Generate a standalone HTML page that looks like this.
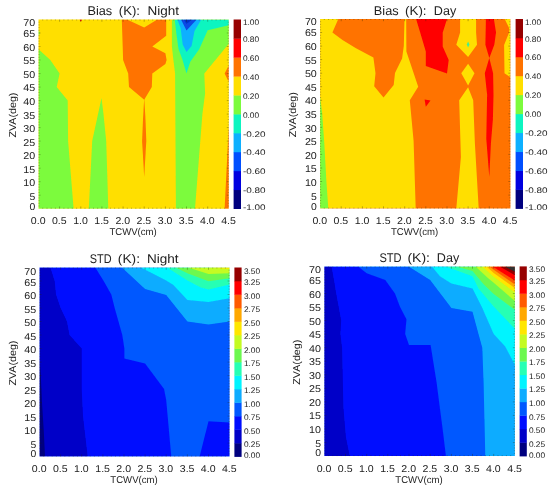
<!DOCTYPE html>
<html lang="en"><head><meta charset="utf-8"><title>Bias and STD versus TCWV and ZVA</title>
<style>
html,body{margin:0;padding:0;background:#fff}
svg{display:block}
text{font-family:'Liberation Sans', Arial, sans-serif;fill:#222;text-rendering:geometricPrecision}
</style></head>
<body>
<svg width="550" height="489" viewBox="0 0 550 489">
<defs><filter id="soft" x="-2%" y="-2%" width="104%" height="104%"><feGaussianBlur stdDeviation="0.45"/></filter></defs>
<rect width="550" height="489" fill="#fff"/>
<clipPath id="c1"><rect x="38.5" y="19.5" width="190.3" height="189.2"/></clipPath>
<g clip-path="url(#c1)" filter="url(#soft)">
<rect x="36.5" y="17.5" width="194.3" height="193.2" fill="#ffdf00"/>
<polygon points="38.5,49.2 50.3,60.0 59.6,73.6 56.7,87.1 67.7,100.6 68.1,141.1 73.6,208.7 38.5,208.7" fill="#7cfb3c"/>
<polygon points="38.5,29.8 40.0,33.0 38.5,36.3" fill="#7cfb3c"/>
<polygon points="79.5,19.5 80.8,21.7 82.1,19.5" fill="#ff0000"/>
<polygon points="88.8,208.7 92.2,141.1 98.6,111.4 101.5,97.9 103.2,111.4 106.2,141.1 108.3,208.7" fill="#7cfb3c"/>
<polygon points="121.8,19.5 126.9,19.5 144.2,27.6 157.3,19.5 166.2,19.5 166.2,35.7 152.3,46.5 165.4,53.3 166.6,60.0 165.4,64.1 152.3,73.6 151.8,87.1 144.2,99.8 129.0,87.1 128.2,73.6 123.1,60.0 122.7,46.5" fill="#ff7300"/>
<polygon points="144.2,97.9 145.5,119.5 146.3,141.1 144.2,177.1 142.1,141.1 143.0,119.5" fill="#ff7300"/>
<polygon points="171.9,19.5 228.8,19.5 228.8,43.8 204.3,73.6 205.1,93.6 202.4,114.1 195.0,208.7 175.9,208.7 175.1,73.6 173.4,60.0 171.9,46.5" fill="#7cfb3c"/>
<polygon points="174.7,19.5 176.4,34.1 178.5,49.0 182.3,59.2 186.5,73.6 190.3,61.7 199.2,49.2 207.7,30.3 228.8,25.2 228.8,19.5" fill="#10f5c0"/>
<polygon points="177.4,19.5 180.6,28.1 182.7,44.4 186.5,51.9 191.6,46.0 194.5,31.1 201.3,19.5" fill="#08b0ff"/>
<polygon points="181.0,19.5 186.5,30.6 196.7,19.5" fill="#0848e4"/>
<polygon points="184.0,19.5 186.5,23.8 192.0,19.5" fill="#0030c8"/>
<polygon points="228.8,65.4 224.6,73.6 228.8,81.7" fill="#ff7300"/>
<polygon points="228.8,124.9 224.6,208.7 228.8,208.7" fill="#ff7300"/>
</g>
<text x="87.4" y="14.7" font-size="12.60" text-anchor="start" textLength="24.8" lengthAdjust="spacingAndGlyphs">Bias</text>
<text x="118.8" y="14.7" font-size="12.60" text-anchor="start" textLength="21.2" lengthAdjust="spacingAndGlyphs">(K):</text>
<text x="147.4" y="14.7" font-size="12.60" text-anchor="start" textLength="31.6" lengthAdjust="spacingAndGlyphs">Night</text>
<text x="38.2" y="224.1" font-size="9.90" text-anchor="middle" textLength="14.7" lengthAdjust="spacingAndGlyphs">0.0</text>
<text x="59.3" y="224.1" font-size="9.90" text-anchor="middle" textLength="14.7" lengthAdjust="spacingAndGlyphs">0.5</text>
<text x="80.5" y="224.1" font-size="9.90" text-anchor="middle" textLength="14.7" lengthAdjust="spacingAndGlyphs">1.0</text>
<text x="101.6" y="224.1" font-size="9.90" text-anchor="middle" textLength="14.7" lengthAdjust="spacingAndGlyphs">1.5</text>
<text x="122.8" y="224.1" font-size="9.90" text-anchor="middle" textLength="14.7" lengthAdjust="spacingAndGlyphs">2.0</text>
<text x="143.9" y="224.1" font-size="9.90" text-anchor="middle" textLength="14.7" lengthAdjust="spacingAndGlyphs">2.5</text>
<text x="165.1" y="224.1" font-size="9.90" text-anchor="middle" textLength="14.7" lengthAdjust="spacingAndGlyphs">3.0</text>
<text x="186.2" y="224.1" font-size="9.90" text-anchor="middle" textLength="14.7" lengthAdjust="spacingAndGlyphs">3.5</text>
<text x="207.4" y="224.1" font-size="9.90" text-anchor="middle" textLength="14.7" lengthAdjust="spacingAndGlyphs">4.0</text>
<text x="228.5" y="224.1" font-size="9.90" text-anchor="middle" textLength="14.7" lengthAdjust="spacingAndGlyphs">4.5</text>
<text x="133.1" y="235.4" font-size="9.90" text-anchor="middle" textLength="47.3" lengthAdjust="spacingAndGlyphs">TCWV(cm)</text>
<text x="35.2" y="210.0" font-size="9.90" text-anchor="end" textLength="5.8" lengthAdjust="spacingAndGlyphs">0</text>
<text x="35.2" y="199.9" font-size="9.90" text-anchor="end" textLength="5.8" lengthAdjust="spacingAndGlyphs">5</text>
<text x="35.2" y="186.4" font-size="9.90" text-anchor="end" textLength="11.9" lengthAdjust="spacingAndGlyphs">10</text>
<text x="35.2" y="172.8" font-size="9.90" text-anchor="end" textLength="11.9" lengthAdjust="spacingAndGlyphs">15</text>
<text x="35.2" y="159.2" font-size="9.90" text-anchor="end" textLength="11.9" lengthAdjust="spacingAndGlyphs">20</text>
<text x="35.2" y="145.6" font-size="9.90" text-anchor="end" textLength="11.9" lengthAdjust="spacingAndGlyphs">25</text>
<text x="35.2" y="132.1" font-size="9.90" text-anchor="end" textLength="11.9" lengthAdjust="spacingAndGlyphs">30</text>
<text x="35.2" y="118.5" font-size="9.90" text-anchor="end" textLength="11.9" lengthAdjust="spacingAndGlyphs">35</text>
<text x="35.2" y="104.9" font-size="9.90" text-anchor="end" textLength="11.9" lengthAdjust="spacingAndGlyphs">40</text>
<text x="35.2" y="91.4" font-size="9.90" text-anchor="end" textLength="11.9" lengthAdjust="spacingAndGlyphs">45</text>
<text x="35.2" y="77.8" font-size="9.90" text-anchor="end" textLength="11.9" lengthAdjust="spacingAndGlyphs">50</text>
<text x="35.2" y="64.2" font-size="9.90" text-anchor="end" textLength="11.9" lengthAdjust="spacingAndGlyphs">55</text>
<text x="35.2" y="50.6" font-size="9.90" text-anchor="end" textLength="11.9" lengthAdjust="spacingAndGlyphs">60</text>
<text x="35.2" y="37.1" font-size="9.90" text-anchor="end" textLength="11.9" lengthAdjust="spacingAndGlyphs">65</text>
<text x="35.2" y="26.1" font-size="9.90" text-anchor="end" textLength="11.9" lengthAdjust="spacingAndGlyphs">70</text>
<text transform="translate(16.3,115.1) rotate(-90)" font-size="9.9" text-anchor="middle" textLength="45" lengthAdjust="spacingAndGlyphs">ZVA(deg)</text>
<path d="M59.6 208.7v-2.2M59.6 19.5v2.2M80.8 208.7v-2.2M80.8 19.5v2.2M101.9 208.7v-2.2M101.9 19.5v2.2M123.1 208.7v-2.2M123.1 19.5v2.2M144.2 208.7v-2.2M144.2 19.5v2.2M165.4 208.7v-2.2M165.4 19.5v2.2M186.5 208.7v-2.2M186.5 19.5v2.2M207.7 208.7v-2.2M207.7 19.5v2.2M42.7 208.7v-1M42.7 19.5v1M47.0 208.7v-1M47.0 19.5v1M51.2 208.7v-1M51.2 19.5v1M55.4 208.7v-1M55.4 19.5v1M63.9 208.7v-1M63.9 19.5v1M68.1 208.7v-1M68.1 19.5v1M72.3 208.7v-1M72.3 19.5v1M76.6 208.7v-1M76.6 19.5v1M85.0 208.7v-1M85.0 19.5v1M89.2 208.7v-1M89.2 19.5v1M93.5 208.7v-1M93.5 19.5v1M97.7 208.7v-1M97.7 19.5v1M106.2 208.7v-1M106.2 19.5v1M110.4 208.7v-1M110.4 19.5v1M114.6 208.7v-1M114.6 19.5v1M118.8 208.7v-1M118.8 19.5v1M127.3 208.7v-1M127.3 19.5v1M131.5 208.7v-1M131.5 19.5v1M135.8 208.7v-1M135.8 19.5v1M140.0 208.7v-1M140.0 19.5v1M148.5 208.7v-1M148.5 19.5v1M152.7 208.7v-1M152.7 19.5v1M156.9 208.7v-1M156.9 19.5v1M161.1 208.7v-1M161.1 19.5v1M169.6 208.7v-1M169.6 19.5v1M173.8 208.7v-1M173.8 19.5v1M178.1 208.7v-1M178.1 19.5v1M182.3 208.7v-1M182.3 19.5v1M190.7 208.7v-1M190.7 19.5v1M195.0 208.7v-1M195.0 19.5v1M199.2 208.7v-1M199.2 19.5v1M203.4 208.7v-1M203.4 19.5v1M211.9 208.7v-1M211.9 19.5v1M216.1 208.7v-1M216.1 19.5v1M220.3 208.7v-1M220.3 19.5v1M224.6 208.7v-1M224.6 19.5v1M38.5 206.0h1.0M228.8 206.0h-1.0M38.5 203.3h1.0M228.8 203.3h-1.0M38.5 200.6h1.0M228.8 200.6h-1.0M38.5 197.9h1.0M228.8 197.9h-1.0M38.5 195.2h2.0M228.8 195.2h-2.0M38.5 192.5h1.0M228.8 192.5h-1.0M38.5 189.8h1.0M228.8 189.8h-1.0M38.5 187.1h1.0M228.8 187.1h-1.0M38.5 184.4h1.0M228.8 184.4h-1.0M38.5 181.7h2.0M228.8 181.7h-2.0M38.5 179.0h1.0M228.8 179.0h-1.0M38.5 176.3h1.0M228.8 176.3h-1.0M38.5 173.6h1.0M228.8 173.6h-1.0M38.5 170.9h1.0M228.8 170.9h-1.0M38.5 168.2h2.0M228.8 168.2h-2.0M38.5 165.5h1.0M228.8 165.5h-1.0M38.5 162.8h1.0M228.8 162.8h-1.0M38.5 160.0h1.0M228.8 160.0h-1.0M38.5 157.3h1.0M228.8 157.3h-1.0M38.5 154.6h2.0M228.8 154.6h-2.0M38.5 151.9h1.0M228.8 151.9h-1.0M38.5 149.2h1.0M228.8 149.2h-1.0M38.5 146.5h1.0M228.8 146.5h-1.0M38.5 143.8h1.0M228.8 143.8h-1.0M38.5 141.1h2.0M228.8 141.1h-2.0M38.5 138.4h1.0M228.8 138.4h-1.0M38.5 135.7h1.0M228.8 135.7h-1.0M38.5 133.0h1.0M228.8 133.0h-1.0M38.5 130.3h1.0M228.8 130.3h-1.0M38.5 127.6h2.0M228.8 127.6h-2.0M38.5 124.9h1.0M228.8 124.9h-1.0M38.5 122.2h1.0M228.8 122.2h-1.0M38.5 119.5h1.0M228.8 119.5h-1.0M38.5 116.8h1.0M228.8 116.8h-1.0M38.5 114.1h2.0M228.8 114.1h-2.0M38.5 111.4h1.0M228.8 111.4h-1.0M38.5 108.7h1.0M228.8 108.7h-1.0M38.5 106.0h1.0M228.8 106.0h-1.0M38.5 103.3h1.0M228.8 103.3h-1.0M38.5 100.6h2.0M228.8 100.6h-2.0M38.5 97.9h1.0M228.8 97.9h-1.0M38.5 95.2h1.0M228.8 95.2h-1.0M38.5 92.5h1.0M228.8 92.5h-1.0M38.5 89.8h1.0M228.8 89.8h-1.0M38.5 87.1h2.0M228.8 87.1h-2.0M38.5 84.4h1.0M228.8 84.4h-1.0M38.5 81.7h1.0M228.8 81.7h-1.0M38.5 79.0h1.0M228.8 79.0h-1.0M38.5 76.3h1.0M228.8 76.3h-1.0M38.5 73.6h2.0M228.8 73.6h-2.0M38.5 70.9h1.0M228.8 70.9h-1.0M38.5 68.2h1.0M228.8 68.2h-1.0M38.5 65.4h1.0M228.8 65.4h-1.0M38.5 62.7h1.0M228.8 62.7h-1.0M38.5 60.0h2.0M228.8 60.0h-2.0M38.5 57.3h1.0M228.8 57.3h-1.0M38.5 54.6h1.0M228.8 54.6h-1.0M38.5 51.9h1.0M228.8 51.9h-1.0M38.5 49.2h1.0M228.8 49.2h-1.0M38.5 46.5h2.0M228.8 46.5h-2.0M38.5 43.8h1.0M228.8 43.8h-1.0M38.5 41.1h1.0M228.8 41.1h-1.0M38.5 38.4h1.0M228.8 38.4h-1.0M38.5 35.7h1.0M228.8 35.7h-1.0M38.5 33.0h2.0M228.8 33.0h-2.0M38.5 30.3h1.0M228.8 30.3h-1.0M38.5 27.6h1.0M228.8 27.6h-1.0M38.5 24.9h1.0M228.8 24.9h-1.0M38.5 22.2h1.0M228.8 22.2h-1.0" stroke="#2a2800" stroke-opacity="0.42" stroke-width="0.8" fill="none"/>
<g filter="url(#soft)">
<rect x="233.6" y="189.78" width="7.4" height="19.22" fill="#00007f"/>
<rect x="233.6" y="170.86" width="7.4" height="19.22" fill="#0000e0"/>
<rect x="233.6" y="151.94" width="7.4" height="19.22" fill="#0050ff"/>
<rect x="233.6" y="133.02" width="7.4" height="19.22" fill="#08b0ff"/>
<rect x="233.6" y="114.10" width="7.4" height="19.22" fill="#10f5c0"/>
<rect x="233.6" y="95.18" width="7.4" height="19.22" fill="#7cfb3c"/>
<rect x="233.6" y="76.26" width="7.4" height="19.22" fill="#ffdf00"/>
<rect x="233.6" y="57.34" width="7.4" height="19.22" fill="#ff7300"/>
<rect x="233.6" y="38.42" width="7.4" height="19.22" fill="#ff0000"/>
<rect x="233.6" y="19.50" width="7.4" height="19.22" fill="#960000"/>
</g>
<text x="243.0" y="209.8" font-size="8.10" text-anchor="start" textLength="22.6" lengthAdjust="spacingAndGlyphs">-1.00</text>
<text x="243.0" y="193.3" font-size="8.10" text-anchor="start" textLength="22.6" lengthAdjust="spacingAndGlyphs">-0.80</text>
<text x="243.0" y="174.4" font-size="8.10" text-anchor="start" textLength="22.6" lengthAdjust="spacingAndGlyphs">-0.60</text>
<text x="243.0" y="155.4" font-size="8.10" text-anchor="start" textLength="22.6" lengthAdjust="spacingAndGlyphs">-0.40</text>
<text x="243.0" y="136.5" font-size="8.10" text-anchor="start" textLength="22.6" lengthAdjust="spacingAndGlyphs">-0.20</text>
<text x="242.9" y="117.6" font-size="8.10" text-anchor="start" textLength="16.2" lengthAdjust="spacingAndGlyphs">0.00</text>
<text x="242.9" y="98.7" font-size="8.10" text-anchor="start" textLength="16.2" lengthAdjust="spacingAndGlyphs">0.20</text>
<text x="242.9" y="79.8" font-size="8.10" text-anchor="start" textLength="16.2" lengthAdjust="spacingAndGlyphs">0.40</text>
<text x="242.9" y="60.8" font-size="8.10" text-anchor="start" textLength="16.2" lengthAdjust="spacingAndGlyphs">0.60</text>
<text x="242.9" y="41.9" font-size="8.10" text-anchor="start" textLength="16.2" lengthAdjust="spacingAndGlyphs">0.80</text>
<text x="242.9" y="25.0" font-size="8.10" text-anchor="start" textLength="16.2" lengthAdjust="spacingAndGlyphs">1.00</text>
<clipPath id="c2"><rect x="320.1" y="19.0" width="190.3" height="189.6"/></clipPath>
<g clip-path="url(#c2)" filter="url(#soft)">
<rect x="318.1" y="17.0" width="194.3" height="193.6" fill="#ff7300"/>
<polygon points="320.1,19.0 338.3,19.0 332.4,32.5 342.5,40.1 356.0,48.3 373.4,57.5 375.5,73.2 374.2,86.2 383.5,97.5 393.7,85.1 395.0,72.9 402.1,58.5 403.8,46.1 404.5,19.0 406.2,19.0 406.4,51.5 418.2,86.7 409.8,100.3 413.6,140.9 415.7,208.6 320.1,208.6" fill="#ffdf00"/>
<polygon points="320.1,96.2 322.2,113.8 324.3,143.6 326.4,181.5 328.3,208.6 320.1,208.6" fill="#7cfb3c"/>
<polygon points="416.1,19.0 420.7,34.2 425.8,51.5 425.8,66.1 447.0,73.4 448.7,59.9 442.7,46.4 442.7,32.8 447.0,19.0" fill="#ff0000"/>
<polygon points="424.6,99.4 430.5,100.5 425.8,106.8" fill="#ff0000"/>
<polygon points="460.1,19.0 460.1,32.5 456.3,44.7 468.1,56.9 477.0,44.7 476.1,32.5 476.1,19.0" fill="#ffdf00"/>
<polygon points="468.1,41.5 469.4,44.5 468.1,47.4 466.8,44.5" fill="#40f090"/>
<polygon points="468.1,63.7 474.5,73.2 468.1,85.6 461.3,73.2" fill="#ffdf00"/>
<polygon points="468.1,87.3 473.2,100.3 474.9,143.6 478.7,208.6 456.3,208.6 460.9,157.1 459.2,100.3" fill="#ffdf00"/>
<polygon points="485.9,19.0 493.9,19.0 496.0,32.5 494.3,44.7 489.3,58.0 485.4,44.7" fill="#ff0000"/>
<polygon points="489.3,58.0 493.1,73.2 493.5,94.8 492.9,119.2 490.9,143.6 489.3,176.9 486.3,139.0 487.1,94.8 484.8,73.2" fill="#ff0000"/>
<polygon points="504.7,19.0 509.1,27.9 509.1,32.5 504.1,45.0 504.5,73.2 510.4,77.2 510.4,19.0" fill="#ffdf00"/>
</g>
<text x="373.8" y="14.5" font-size="12.60" text-anchor="start" textLength="24.8" lengthAdjust="spacingAndGlyphs">Bias</text>
<text x="405.0" y="14.5" font-size="12.60" text-anchor="start" textLength="21.6" lengthAdjust="spacingAndGlyphs">(K):</text>
<text x="433.8" y="14.5" font-size="12.60" text-anchor="start" textLength="22.4" lengthAdjust="spacingAndGlyphs">Day</text>
<text x="319.8" y="224.0" font-size="9.90" text-anchor="middle" textLength="14.7" lengthAdjust="spacingAndGlyphs">0.0</text>
<text x="340.9" y="224.0" font-size="9.90" text-anchor="middle" textLength="14.7" lengthAdjust="spacingAndGlyphs">0.5</text>
<text x="362.1" y="224.0" font-size="9.90" text-anchor="middle" textLength="14.7" lengthAdjust="spacingAndGlyphs">1.0</text>
<text x="383.2" y="224.0" font-size="9.90" text-anchor="middle" textLength="14.7" lengthAdjust="spacingAndGlyphs">1.5</text>
<text x="404.4" y="224.0" font-size="9.90" text-anchor="middle" textLength="14.7" lengthAdjust="spacingAndGlyphs">2.0</text>
<text x="425.5" y="224.0" font-size="9.90" text-anchor="middle" textLength="14.7" lengthAdjust="spacingAndGlyphs">2.5</text>
<text x="446.7" y="224.0" font-size="9.90" text-anchor="middle" textLength="14.7" lengthAdjust="spacingAndGlyphs">3.0</text>
<text x="467.8" y="224.0" font-size="9.90" text-anchor="middle" textLength="14.7" lengthAdjust="spacingAndGlyphs">3.5</text>
<text x="489.0" y="224.0" font-size="9.90" text-anchor="middle" textLength="14.7" lengthAdjust="spacingAndGlyphs">4.0</text>
<text x="510.1" y="224.0" font-size="9.90" text-anchor="middle" textLength="14.7" lengthAdjust="spacingAndGlyphs">4.5</text>
<text x="414.6" y="235.3" font-size="9.90" text-anchor="middle" textLength="47.3" lengthAdjust="spacingAndGlyphs">TCWV(cm)</text>
<text x="316.8" y="209.6" font-size="9.90" text-anchor="end" textLength="5.8" lengthAdjust="spacingAndGlyphs">0</text>
<text x="316.8" y="199.5" font-size="9.90" text-anchor="end" textLength="5.8" lengthAdjust="spacingAndGlyphs">5</text>
<text x="316.8" y="185.9" font-size="9.90" text-anchor="end" textLength="11.9" lengthAdjust="spacingAndGlyphs">10</text>
<text x="316.8" y="172.3" font-size="9.90" text-anchor="end" textLength="11.9" lengthAdjust="spacingAndGlyphs">15</text>
<text x="316.8" y="158.7" font-size="9.90" text-anchor="end" textLength="11.9" lengthAdjust="spacingAndGlyphs">20</text>
<text x="316.8" y="145.1" font-size="9.90" text-anchor="end" textLength="11.9" lengthAdjust="spacingAndGlyphs">25</text>
<text x="316.8" y="131.5" font-size="9.90" text-anchor="end" textLength="11.9" lengthAdjust="spacingAndGlyphs">30</text>
<text x="316.8" y="118.0" font-size="9.90" text-anchor="end" textLength="11.9" lengthAdjust="spacingAndGlyphs">35</text>
<text x="316.8" y="104.4" font-size="9.90" text-anchor="end" textLength="11.9" lengthAdjust="spacingAndGlyphs">40</text>
<text x="316.8" y="90.8" font-size="9.90" text-anchor="end" textLength="11.9" lengthAdjust="spacingAndGlyphs">45</text>
<text x="316.8" y="77.2" font-size="9.90" text-anchor="end" textLength="11.9" lengthAdjust="spacingAndGlyphs">50</text>
<text x="316.8" y="63.6" font-size="9.90" text-anchor="end" textLength="11.9" lengthAdjust="spacingAndGlyphs">55</text>
<text x="316.8" y="50.0" font-size="9.90" text-anchor="end" textLength="11.9" lengthAdjust="spacingAndGlyphs">60</text>
<text x="316.8" y="36.4" font-size="9.90" text-anchor="end" textLength="11.9" lengthAdjust="spacingAndGlyphs">65</text>
<text x="316.8" y="25.4" font-size="9.90" text-anchor="end" textLength="11.9" lengthAdjust="spacingAndGlyphs">70</text>
<text transform="translate(295.6,114.8) rotate(-90)" font-size="9.9" text-anchor="middle" textLength="45" lengthAdjust="spacingAndGlyphs">ZVA(deg)</text>
<path d="M341.2 208.6v-2.2M341.2 19.0v2.2M362.4 208.6v-2.2M362.4 19.0v2.2M383.5 208.6v-2.2M383.5 19.0v2.2M404.7 208.6v-2.2M404.7 19.0v2.2M425.8 208.6v-2.2M425.8 19.0v2.2M447.0 208.6v-2.2M447.0 19.0v2.2M468.1 208.6v-2.2M468.1 19.0v2.2M489.3 208.6v-2.2M489.3 19.0v2.2M324.3 208.6v-1M324.3 19.0v1M328.6 208.6v-1M328.6 19.0v1M332.8 208.6v-1M332.8 19.0v1M337.0 208.6v-1M337.0 19.0v1M345.5 208.6v-1M345.5 19.0v1M349.7 208.6v-1M349.7 19.0v1M353.9 208.6v-1M353.9 19.0v1M358.2 208.6v-1M358.2 19.0v1M366.6 208.6v-1M366.6 19.0v1M370.8 208.6v-1M370.8 19.0v1M375.1 208.6v-1M375.1 19.0v1M379.3 208.6v-1M379.3 19.0v1M387.8 208.6v-1M387.8 19.0v1M392.0 208.6v-1M392.0 19.0v1M396.2 208.6v-1M396.2 19.0v1M400.4 208.6v-1M400.4 19.0v1M408.9 208.6v-1M408.9 19.0v1M413.1 208.6v-1M413.1 19.0v1M417.4 208.6v-1M417.4 19.0v1M421.6 208.6v-1M421.6 19.0v1M430.1 208.6v-1M430.1 19.0v1M434.3 208.6v-1M434.3 19.0v1M438.5 208.6v-1M438.5 19.0v1M442.7 208.6v-1M442.7 19.0v1M451.2 208.6v-1M451.2 19.0v1M455.4 208.6v-1M455.4 19.0v1M459.7 208.6v-1M459.7 19.0v1M463.9 208.6v-1M463.9 19.0v1M472.3 208.6v-1M472.3 19.0v1M476.6 208.6v-1M476.6 19.0v1M480.8 208.6v-1M480.8 19.0v1M485.0 208.6v-1M485.0 19.0v1M493.5 208.6v-1M493.5 19.0v1M497.7 208.6v-1M497.7 19.0v1M501.9 208.6v-1M501.9 19.0v1M506.2 208.6v-1M506.2 19.0v1M320.1 205.9h1.0M510.4 205.9h-1.0M320.1 203.2h1.0M510.4 203.2h-1.0M320.1 200.5h1.0M510.4 200.5h-1.0M320.1 197.8h1.0M510.4 197.8h-1.0M320.1 195.1h2.0M510.4 195.1h-2.0M320.1 192.3h1.0M510.4 192.3h-1.0M320.1 189.6h1.0M510.4 189.6h-1.0M320.1 186.9h1.0M510.4 186.9h-1.0M320.1 184.2h1.0M510.4 184.2h-1.0M320.1 181.5h2.0M510.4 181.5h-2.0M320.1 178.8h1.0M510.4 178.8h-1.0M320.1 176.1h1.0M510.4 176.1h-1.0M320.1 173.4h1.0M510.4 173.4h-1.0M320.1 170.7h1.0M510.4 170.7h-1.0M320.1 168.0h2.0M510.4 168.0h-2.0M320.1 165.3h1.0M510.4 165.3h-1.0M320.1 162.6h1.0M510.4 162.6h-1.0M320.1 159.8h1.0M510.4 159.8h-1.0M320.1 157.1h1.0M510.4 157.1h-1.0M320.1 154.4h2.0M510.4 154.4h-2.0M320.1 151.7h1.0M510.4 151.7h-1.0M320.1 149.0h1.0M510.4 149.0h-1.0M320.1 146.3h1.0M510.4 146.3h-1.0M320.1 143.6h1.0M510.4 143.6h-1.0M320.1 140.9h2.0M510.4 140.9h-2.0M320.1 138.2h1.0M510.4 138.2h-1.0M320.1 135.5h1.0M510.4 135.5h-1.0M320.1 132.8h1.0M510.4 132.8h-1.0M320.1 130.1h1.0M510.4 130.1h-1.0M320.1 127.3h2.0M510.4 127.3h-2.0M320.1 124.6h1.0M510.4 124.6h-1.0M320.1 121.9h1.0M510.4 121.9h-1.0M320.1 119.2h1.0M510.4 119.2h-1.0M320.1 116.5h1.0M510.4 116.5h-1.0M320.1 113.8h2.0M510.4 113.8h-2.0M320.1 111.1h1.0M510.4 111.1h-1.0M320.1 108.4h1.0M510.4 108.4h-1.0M320.1 105.7h1.0M510.4 105.7h-1.0M320.1 103.0h1.0M510.4 103.0h-1.0M320.1 100.3h2.0M510.4 100.3h-2.0M320.1 97.5h1.0M510.4 97.5h-1.0M320.1 94.8h1.0M510.4 94.8h-1.0M320.1 92.1h1.0M510.4 92.1h-1.0M320.1 89.4h1.0M510.4 89.4h-1.0M320.1 86.7h2.0M510.4 86.7h-2.0M320.1 84.0h1.0M510.4 84.0h-1.0M320.1 81.3h1.0M510.4 81.3h-1.0M320.1 78.6h1.0M510.4 78.6h-1.0M320.1 75.9h1.0M510.4 75.9h-1.0M320.1 73.2h2.0M510.4 73.2h-2.0M320.1 70.5h1.0M510.4 70.5h-1.0M320.1 67.8h1.0M510.4 67.8h-1.0M320.1 65.0h1.0M510.4 65.0h-1.0M320.1 62.3h1.0M510.4 62.3h-1.0M320.1 59.6h2.0M510.4 59.6h-2.0M320.1 56.9h1.0M510.4 56.9h-1.0M320.1 54.2h1.0M510.4 54.2h-1.0M320.1 51.5h1.0M510.4 51.5h-1.0M320.1 48.8h1.0M510.4 48.8h-1.0M320.1 46.1h2.0M510.4 46.1h-2.0M320.1 43.4h1.0M510.4 43.4h-1.0M320.1 40.7h1.0M510.4 40.7h-1.0M320.1 38.0h1.0M510.4 38.0h-1.0M320.1 35.3h1.0M510.4 35.3h-1.0M320.1 32.5h2.0M510.4 32.5h-2.0M320.1 29.8h1.0M510.4 29.8h-1.0M320.1 27.1h1.0M510.4 27.1h-1.0M320.1 24.4h1.0M510.4 24.4h-1.0M320.1 21.7h1.0M510.4 21.7h-1.0" stroke="#2a2800" stroke-opacity="0.42" stroke-width="0.8" fill="none"/>
<g filter="url(#soft)">
<rect x="515.6" y="189.64" width="7.4" height="19.26" fill="#00007f"/>
<rect x="515.6" y="170.68" width="7.4" height="19.26" fill="#0000e0"/>
<rect x="515.6" y="151.72" width="7.4" height="19.26" fill="#0050ff"/>
<rect x="515.6" y="132.76" width="7.4" height="19.26" fill="#08b0ff"/>
<rect x="515.6" y="113.80" width="7.4" height="19.26" fill="#10f5c0"/>
<rect x="515.6" y="94.84" width="7.4" height="19.26" fill="#7cfb3c"/>
<rect x="515.6" y="75.88" width="7.4" height="19.26" fill="#ffdf00"/>
<rect x="515.6" y="56.92" width="7.4" height="19.26" fill="#ff7300"/>
<rect x="515.6" y="37.96" width="7.4" height="19.26" fill="#ff0000"/>
<rect x="515.6" y="19.00" width="7.4" height="19.26" fill="#960000"/>
</g>
<text x="525.0" y="209.7" font-size="8.10" text-anchor="start" textLength="22.6" lengthAdjust="spacingAndGlyphs">-1.00</text>
<text x="525.0" y="193.1" font-size="8.10" text-anchor="start" textLength="22.6" lengthAdjust="spacingAndGlyphs">-0.80</text>
<text x="525.0" y="174.2" font-size="8.10" text-anchor="start" textLength="22.6" lengthAdjust="spacingAndGlyphs">-0.60</text>
<text x="525.0" y="155.2" font-size="8.10" text-anchor="start" textLength="22.6" lengthAdjust="spacingAndGlyphs">-0.40</text>
<text x="525.0" y="136.3" font-size="8.10" text-anchor="start" textLength="22.6" lengthAdjust="spacingAndGlyphs">-0.20</text>
<text x="524.9" y="117.3" font-size="8.10" text-anchor="start" textLength="16.2" lengthAdjust="spacingAndGlyphs">0.00</text>
<text x="524.9" y="98.3" font-size="8.10" text-anchor="start" textLength="16.2" lengthAdjust="spacingAndGlyphs">0.20</text>
<text x="524.9" y="79.4" font-size="8.10" text-anchor="start" textLength="16.2" lengthAdjust="spacingAndGlyphs">0.40</text>
<text x="524.9" y="60.4" font-size="8.10" text-anchor="start" textLength="16.2" lengthAdjust="spacingAndGlyphs">0.60</text>
<text x="524.9" y="41.5" font-size="8.10" text-anchor="start" textLength="16.2" lengthAdjust="spacingAndGlyphs">0.80</text>
<text x="524.9" y="24.5" font-size="8.10" text-anchor="start" textLength="16.2" lengthAdjust="spacingAndGlyphs">1.00</text>
<clipPath id="c3"><rect x="39.5" y="267.5" width="190.1" height="189.1"/></clipPath>
<g clip-path="url(#c3)" filter="url(#soft)">
<rect x="37.5" y="265.5" width="194.1" height="193.1" fill="#0058ff"/>
<polygon points="39.5,267.5 95.3,267.5 103.7,281.0 111.3,294.5 114.7,308.0 118.5,321.5 122.3,335.0 124.4,348.5 124.4,358.5 145.1,363.4 164.1,389.1 166.2,399.9 167.9,418.8 171.3,456.6 39.5,456.6" fill="#0010ff"/>
<polygon points="39.5,267.5 50.3,267.5 54.7,281.0 56.0,294.5 60.6,308.0 67.0,321.5 69.5,335.0 81.7,348.5 81.7,389.1 83.0,416.1 87.7,456.6 39.5,456.6" fill="#0000c8"/>
<polygon points="39.5,356.6 40.8,375.6 42.0,402.6 43.7,429.6 45.0,456.6 39.5,456.6" fill="#00007f"/>
<polygon points="199.6,456.6 208.5,421.2 229.6,422.6 229.6,456.6" fill="#0010ff"/>
<polygon points="121.9,267.5 145.1,289.1 166.2,295.1 187.4,321.5 208.5,324.5 229.6,321.5 229.6,267.5" fill="#0cacff"/>
<polygon points="140.9,267.5 166.2,280.5 173.4,285.1 187.4,299.9 208.5,302.1 229.6,298.3 229.6,267.5" fill="#00f4ff"/>
<polygon points="167.1,267.5 187.4,280.5 200.9,287.5 208.5,289.4 229.6,284.5 229.6,267.5" fill="#28ffb4"/>
<polygon points="175.5,267.5 187.4,273.2 208.5,281.3 229.6,278.3 229.6,267.5" fill="#6cf850"/>
<polygon points="188.2,267.5 208.5,274.0 229.6,273.2 229.6,267.5" fill="#c4fb20"/>
<polygon points="208.5,267.5 229.6,269.1 229.6,267.5" fill="#ffe600"/>
</g>
<text x="89.8" y="262.7" font-size="12.60" text-anchor="start" textLength="21.8" lengthAdjust="spacingAndGlyphs">STD</text>
<text x="117.8" y="262.7" font-size="12.60" text-anchor="start" textLength="22.2" lengthAdjust="spacingAndGlyphs">(K):</text>
<text x="147.0" y="262.7" font-size="12.60" text-anchor="start" textLength="31.6" lengthAdjust="spacingAndGlyphs">Night</text>
<text x="39.2" y="472.0" font-size="9.90" text-anchor="middle" textLength="14.7" lengthAdjust="spacingAndGlyphs">0.0</text>
<text x="60.3" y="472.0" font-size="9.90" text-anchor="middle" textLength="14.7" lengthAdjust="spacingAndGlyphs">0.5</text>
<text x="81.4" y="472.0" font-size="9.90" text-anchor="middle" textLength="14.7" lengthAdjust="spacingAndGlyphs">1.0</text>
<text x="102.6" y="472.0" font-size="9.90" text-anchor="middle" textLength="14.7" lengthAdjust="spacingAndGlyphs">1.5</text>
<text x="123.7" y="472.0" font-size="9.90" text-anchor="middle" textLength="14.7" lengthAdjust="spacingAndGlyphs">2.0</text>
<text x="144.8" y="472.0" font-size="9.90" text-anchor="middle" textLength="14.7" lengthAdjust="spacingAndGlyphs">2.5</text>
<text x="165.9" y="472.0" font-size="9.90" text-anchor="middle" textLength="14.7" lengthAdjust="spacingAndGlyphs">3.0</text>
<text x="187.1" y="472.0" font-size="9.90" text-anchor="middle" textLength="14.7" lengthAdjust="spacingAndGlyphs">3.5</text>
<text x="208.2" y="472.0" font-size="9.90" text-anchor="middle" textLength="14.7" lengthAdjust="spacingAndGlyphs">4.0</text>
<text x="229.3" y="472.0" font-size="9.90" text-anchor="middle" textLength="14.7" lengthAdjust="spacingAndGlyphs">4.5</text>
<text x="134.0" y="483.3" font-size="9.90" text-anchor="middle" textLength="47.3" lengthAdjust="spacingAndGlyphs">TCWV(cm)</text>
<text x="36.2" y="457.4" font-size="9.90" text-anchor="end" textLength="5.8" lengthAdjust="spacingAndGlyphs">0</text>
<text x="36.2" y="447.9" font-size="9.90" text-anchor="end" textLength="5.8" lengthAdjust="spacingAndGlyphs">5</text>
<text x="36.2" y="434.4" font-size="9.90" text-anchor="end" textLength="11.9" lengthAdjust="spacingAndGlyphs">10</text>
<text x="36.2" y="420.9" font-size="9.90" text-anchor="end" textLength="11.9" lengthAdjust="spacingAndGlyphs">15</text>
<text x="36.2" y="407.4" font-size="9.90" text-anchor="end" textLength="11.9" lengthAdjust="spacingAndGlyphs">20</text>
<text x="36.2" y="393.9" font-size="9.90" text-anchor="end" textLength="11.9" lengthAdjust="spacingAndGlyphs">25</text>
<text x="36.2" y="380.4" font-size="9.90" text-anchor="end" textLength="11.9" lengthAdjust="spacingAndGlyphs">30</text>
<text x="36.2" y="366.9" font-size="9.90" text-anchor="end" textLength="11.9" lengthAdjust="spacingAndGlyphs">35</text>
<text x="36.2" y="353.3" font-size="9.90" text-anchor="end" textLength="11.9" lengthAdjust="spacingAndGlyphs">40</text>
<text x="36.2" y="339.8" font-size="9.90" text-anchor="end" textLength="11.9" lengthAdjust="spacingAndGlyphs">45</text>
<text x="36.2" y="326.3" font-size="9.90" text-anchor="end" textLength="11.9" lengthAdjust="spacingAndGlyphs">50</text>
<text x="36.2" y="312.8" font-size="9.90" text-anchor="end" textLength="11.9" lengthAdjust="spacingAndGlyphs">55</text>
<text x="36.2" y="299.3" font-size="9.90" text-anchor="end" textLength="11.9" lengthAdjust="spacingAndGlyphs">60</text>
<text x="36.2" y="285.8" font-size="9.90" text-anchor="end" textLength="11.9" lengthAdjust="spacingAndGlyphs">65</text>
<text x="36.2" y="274.9" font-size="9.90" text-anchor="end" textLength="11.9" lengthAdjust="spacingAndGlyphs">70</text>
<text transform="translate(15.7,363.1) rotate(-90)" font-size="9.9" text-anchor="middle" textLength="45" lengthAdjust="spacingAndGlyphs">ZVA(deg)</text>
<path d="M60.6 456.6v-2.2M60.6 267.5v2.2M81.7 456.6v-2.2M81.7 267.5v2.2M102.9 456.6v-2.2M102.9 267.5v2.2M124.0 456.6v-2.2M124.0 267.5v2.2M145.1 456.6v-2.2M145.1 267.5v2.2M166.2 456.6v-2.2M166.2 267.5v2.2M187.4 456.6v-2.2M187.4 267.5v2.2M208.5 456.6v-2.2M208.5 267.5v2.2M43.7 456.6v-1M43.7 267.5v1M47.9 456.6v-1M47.9 267.5v1M52.2 456.6v-1M52.2 267.5v1M56.4 456.6v-1M56.4 267.5v1M64.8 456.6v-1M64.8 267.5v1M69.1 456.6v-1M69.1 267.5v1M73.3 456.6v-1M73.3 267.5v1M77.5 456.6v-1M77.5 267.5v1M86.0 456.6v-1M86.0 267.5v1M90.2 456.6v-1M90.2 267.5v1M94.4 456.6v-1M94.4 267.5v1M98.6 456.6v-1M98.6 267.5v1M107.1 456.6v-1M107.1 267.5v1M111.3 456.6v-1M111.3 267.5v1M115.5 456.6v-1M115.5 267.5v1M119.8 456.6v-1M119.8 267.5v1M128.2 456.6v-1M128.2 267.5v1M132.4 456.6v-1M132.4 267.5v1M136.7 456.6v-1M136.7 267.5v1M140.9 456.6v-1M140.9 267.5v1M149.3 456.6v-1M149.3 267.5v1M153.6 456.6v-1M153.6 267.5v1M157.8 456.6v-1M157.8 267.5v1M162.0 456.6v-1M162.0 267.5v1M170.5 456.6v-1M170.5 267.5v1M174.7 456.6v-1M174.7 267.5v1M178.9 456.6v-1M178.9 267.5v1M183.1 456.6v-1M183.1 267.5v1M191.6 456.6v-1M191.6 267.5v1M195.8 456.6v-1M195.8 267.5v1M200.0 456.6v-1M200.0 267.5v1M204.3 456.6v-1M204.3 267.5v1M212.7 456.6v-1M212.7 267.5v1M216.9 456.6v-1M216.9 267.5v1M221.2 456.6v-1M221.2 267.5v1M225.4 456.6v-1M225.4 267.5v1M39.5 453.9h1.0M229.6 453.9h-1.0M39.5 451.2h1.0M229.6 451.2h-1.0M39.5 448.5h1.0M229.6 448.5h-1.0M39.5 445.8h1.0M229.6 445.8h-1.0M39.5 443.1h2.0M229.6 443.1h-2.0M39.5 440.4h1.0M229.6 440.4h-1.0M39.5 437.7h1.0M229.6 437.7h-1.0M39.5 435.0h1.0M229.6 435.0h-1.0M39.5 432.3h1.0M229.6 432.3h-1.0M39.5 429.6h2.0M229.6 429.6h-2.0M39.5 426.9h1.0M229.6 426.9h-1.0M39.5 424.2h1.0M229.6 424.2h-1.0M39.5 421.5h1.0M229.6 421.5h-1.0M39.5 418.8h1.0M229.6 418.8h-1.0M39.5 416.1h2.0M229.6 416.1h-2.0M39.5 413.4h1.0M229.6 413.4h-1.0M39.5 410.7h1.0M229.6 410.7h-1.0M39.5 408.0h1.0M229.6 408.0h-1.0M39.5 405.3h1.0M229.6 405.3h-1.0M39.5 402.6h2.0M229.6 402.6h-2.0M39.5 399.9h1.0M229.6 399.9h-1.0M39.5 397.2h1.0M229.6 397.2h-1.0M39.5 394.5h1.0M229.6 394.5h-1.0M39.5 391.8h1.0M229.6 391.8h-1.0M39.5 389.1h2.0M229.6 389.1h-2.0M39.5 386.4h1.0M229.6 386.4h-1.0M39.5 383.7h1.0M229.6 383.7h-1.0M39.5 381.0h1.0M229.6 381.0h-1.0M39.5 378.3h1.0M229.6 378.3h-1.0M39.5 375.6h2.0M229.6 375.6h-2.0M39.5 372.9h1.0M229.6 372.9h-1.0M39.5 370.2h1.0M229.6 370.2h-1.0M39.5 367.5h1.0M229.6 367.5h-1.0M39.5 364.8h1.0M229.6 364.8h-1.0M39.5 362.1h2.0M229.6 362.1h-2.0M39.5 359.3h1.0M229.6 359.3h-1.0M39.5 356.6h1.0M229.6 356.6h-1.0M39.5 353.9h1.0M229.6 353.9h-1.0M39.5 351.2h1.0M229.6 351.2h-1.0M39.5 348.5h2.0M229.6 348.5h-2.0M39.5 345.8h1.0M229.6 345.8h-1.0M39.5 343.1h1.0M229.6 343.1h-1.0M39.5 340.4h1.0M229.6 340.4h-1.0M39.5 337.7h1.0M229.6 337.7h-1.0M39.5 335.0h2.0M229.6 335.0h-2.0M39.5 332.3h1.0M229.6 332.3h-1.0M39.5 329.6h1.0M229.6 329.6h-1.0M39.5 326.9h1.0M229.6 326.9h-1.0M39.5 324.2h1.0M229.6 324.2h-1.0M39.5 321.5h2.0M229.6 321.5h-2.0M39.5 318.8h1.0M229.6 318.8h-1.0M39.5 316.1h1.0M229.6 316.1h-1.0M39.5 313.4h1.0M229.6 313.4h-1.0M39.5 310.7h1.0M229.6 310.7h-1.0M39.5 308.0h2.0M229.6 308.0h-2.0M39.5 305.3h1.0M229.6 305.3h-1.0M39.5 302.6h1.0M229.6 302.6h-1.0M39.5 299.9h1.0M229.6 299.9h-1.0M39.5 297.2h1.0M229.6 297.2h-1.0M39.5 294.5h2.0M229.6 294.5h-2.0M39.5 291.8h1.0M229.6 291.8h-1.0M39.5 289.1h1.0M229.6 289.1h-1.0M39.5 286.4h1.0M229.6 286.4h-1.0M39.5 283.7h1.0M229.6 283.7h-1.0M39.5 281.0h2.0M229.6 281.0h-2.0M39.5 278.3h1.0M229.6 278.3h-1.0M39.5 275.6h1.0M229.6 275.6h-1.0M39.5 272.9h1.0M229.6 272.9h-1.0M39.5 270.2h1.0M229.6 270.2h-1.0" stroke="#2a2800" stroke-opacity="0.42" stroke-width="0.8" fill="none"/>
<g filter="url(#soft)">
<rect x="234.4" y="443.09" width="7.2" height="13.81" fill="#00007f"/>
<rect x="234.4" y="429.59" width="7.2" height="13.81" fill="#0000c8"/>
<rect x="234.4" y="416.08" width="7.2" height="13.81" fill="#0010ff"/>
<rect x="234.4" y="402.57" width="7.2" height="13.81" fill="#0058ff"/>
<rect x="234.4" y="389.06" width="7.2" height="13.81" fill="#0cacff"/>
<rect x="234.4" y="375.56" width="7.2" height="13.81" fill="#00f4ff"/>
<rect x="234.4" y="362.05" width="7.2" height="13.81" fill="#28ffb4"/>
<rect x="234.4" y="348.54" width="7.2" height="13.81" fill="#6cf850"/>
<rect x="234.4" y="335.04" width="7.2" height="13.81" fill="#c4fb20"/>
<rect x="234.4" y="321.53" width="7.2" height="13.81" fill="#ffe600"/>
<rect x="234.4" y="308.02" width="7.2" height="13.81" fill="#ffa800"/>
<rect x="234.4" y="294.51" width="7.2" height="13.81" fill="#ff5a00"/>
<rect x="234.4" y="281.01" width="7.2" height="13.81" fill="#ff0000"/>
<rect x="234.4" y="267.50" width="7.2" height="13.81" fill="#960000"/>
</g>
<text x="243.9" y="458.2" font-size="8.10" text-anchor="start" textLength="16.2" lengthAdjust="spacingAndGlyphs">0.00</text>
<text x="243.9" y="447.1" font-size="8.10" text-anchor="start" textLength="16.2" lengthAdjust="spacingAndGlyphs">0.25</text>
<text x="243.9" y="433.6" font-size="8.10" text-anchor="start" textLength="16.2" lengthAdjust="spacingAndGlyphs">0.50</text>
<text x="243.9" y="420.1" font-size="8.10" text-anchor="start" textLength="16.2" lengthAdjust="spacingAndGlyphs">0.75</text>
<text x="243.9" y="406.6" font-size="8.10" text-anchor="start" textLength="16.2" lengthAdjust="spacingAndGlyphs">1.00</text>
<text x="243.9" y="393.1" font-size="8.10" text-anchor="start" textLength="16.2" lengthAdjust="spacingAndGlyphs">1.25</text>
<text x="243.9" y="379.6" font-size="8.10" text-anchor="start" textLength="16.2" lengthAdjust="spacingAndGlyphs">1.50</text>
<text x="243.9" y="366.1" font-size="8.10" text-anchor="start" textLength="16.2" lengthAdjust="spacingAndGlyphs">1.75</text>
<text x="243.9" y="352.5" font-size="8.10" text-anchor="start" textLength="16.2" lengthAdjust="spacingAndGlyphs">2.00</text>
<text x="243.9" y="339.0" font-size="8.10" text-anchor="start" textLength="16.2" lengthAdjust="spacingAndGlyphs">2.25</text>
<text x="243.9" y="325.5" font-size="8.10" text-anchor="start" textLength="16.2" lengthAdjust="spacingAndGlyphs">2.50</text>
<text x="243.9" y="312.0" font-size="8.10" text-anchor="start" textLength="16.2" lengthAdjust="spacingAndGlyphs">2.75</text>
<text x="243.9" y="298.5" font-size="8.10" text-anchor="start" textLength="16.2" lengthAdjust="spacingAndGlyphs">3.00</text>
<text x="243.9" y="285.0" font-size="8.10" text-anchor="start" textLength="16.2" lengthAdjust="spacingAndGlyphs">3.25</text>
<text x="243.9" y="273.5" font-size="8.10" text-anchor="start" textLength="16.2" lengthAdjust="spacingAndGlyphs">3.50</text>
<clipPath id="c4"><rect x="324.3" y="266.4" width="190.6" height="189.7"/></clipPath>
<g clip-path="url(#c4)" filter="url(#soft)">
<rect x="322.3" y="264.4" width="194.6" height="193.7" fill="#0cacff"/>
<polygon points="324.3,266.4 408.6,266.4 430.2,279.9 440.4,293.5 451.4,308.1 472.5,311.7 478.5,334.1 482.3,347.7 483.6,382.9 485.3,456.1 324.3,456.1" fill="#0058ff"/>
<polygon points="324.3,266.4 358.2,266.4 366.7,273.2 385.3,279.9 395.0,293.5 400.1,307.0 406.5,319.2 405.2,334.1 409.0,345.0 430.6,345.0 436.5,381.8 442.9,430.9 445.9,456.1 324.3,456.1" fill="#0010ff"/>
<polygon points="324.3,266.4 331.5,266.4 334.0,279.9 336.2,293.5 338.7,307.0 341.2,320.6 340.4,334.1 342.1,347.7 343.4,407.3 345.9,437.1 349.7,456.1 324.3,456.1" fill="#0000c8"/>
<polygon points="431.9,266.4 439.9,276.2 451.4,283.5 472.5,288.6 482.3,308.1 493.7,334.1 505.2,346.6 514.9,365.0 514.9,266.4" fill="#00f4ff"/>
<polygon points="445.9,266.4 472.5,276.2 478.5,288.6 493.7,306.5 514.9,328.7 514.9,266.4" fill="#28ffb4"/>
<polygon points="456.0,266.4 472.5,271.0 483.6,284.3 493.7,294.0 514.9,309.8 514.9,266.4" fill="#6cf850"/>
<polygon points="475.5,266.4 488.2,278.3 493.7,282.7 514.9,301.1 514.9,266.4" fill="#c4fb20"/>
<polygon points="482.3,266.4 493.7,276.7 514.9,292.4 514.9,266.4" fill="#ffe600"/>
<polygon points="486.5,266.4 493.7,272.9 514.9,288.1 514.9,266.4" fill="#ffa800"/>
<polygon points="489.5,266.4 493.7,269.7 514.9,284.6 514.9,266.4" fill="#ff5a00"/>
<polygon points="492.5,266.4 493.7,267.2 514.9,280.5 514.9,266.4" fill="#ff0000"/>
<polygon points="499.7,266.4 514.9,275.3 514.9,266.4" fill="#960000"/>
<polygon points="504.3,266.4 514.9,271.8 514.9,266.4" fill="#303030"/>
</g>
<text x="379.4" y="261.9" font-size="12.60" text-anchor="start" textLength="22.2" lengthAdjust="spacingAndGlyphs">STD</text>
<text x="407.4" y="261.9" font-size="12.60" text-anchor="start" textLength="22.6" lengthAdjust="spacingAndGlyphs">(K):</text>
<text x="436.8" y="261.9" font-size="12.60" text-anchor="start" textLength="22.4" lengthAdjust="spacingAndGlyphs">Day</text>
<text x="324.0" y="471.5" font-size="9.90" text-anchor="middle" textLength="14.7" lengthAdjust="spacingAndGlyphs">0.0</text>
<text x="345.2" y="471.5" font-size="9.90" text-anchor="middle" textLength="14.7" lengthAdjust="spacingAndGlyphs">0.5</text>
<text x="366.4" y="471.5" font-size="9.90" text-anchor="middle" textLength="14.7" lengthAdjust="spacingAndGlyphs">1.0</text>
<text x="387.5" y="471.5" font-size="9.90" text-anchor="middle" textLength="14.7" lengthAdjust="spacingAndGlyphs">1.5</text>
<text x="408.7" y="471.5" font-size="9.90" text-anchor="middle" textLength="14.7" lengthAdjust="spacingAndGlyphs">2.0</text>
<text x="429.9" y="471.5" font-size="9.90" text-anchor="middle" textLength="14.7" lengthAdjust="spacingAndGlyphs">2.5</text>
<text x="451.1" y="471.5" font-size="9.90" text-anchor="middle" textLength="14.7" lengthAdjust="spacingAndGlyphs">3.0</text>
<text x="472.2" y="471.5" font-size="9.90" text-anchor="middle" textLength="14.7" lengthAdjust="spacingAndGlyphs">3.5</text>
<text x="493.4" y="471.5" font-size="9.90" text-anchor="middle" textLength="14.7" lengthAdjust="spacingAndGlyphs">4.0</text>
<text x="514.6" y="471.5" font-size="9.90" text-anchor="middle" textLength="14.7" lengthAdjust="spacingAndGlyphs">4.5</text>
<text x="419.0" y="482.8" font-size="9.90" text-anchor="middle" textLength="47.3" lengthAdjust="spacingAndGlyphs">TCWV(cm)</text>
<text x="321.0" y="456.2" font-size="9.90" text-anchor="end" textLength="5.8" lengthAdjust="spacingAndGlyphs">0</text>
<text x="321.0" y="446.6" font-size="9.90" text-anchor="end" textLength="5.8" lengthAdjust="spacingAndGlyphs">5</text>
<text x="321.0" y="433.0" font-size="9.90" text-anchor="end" textLength="11.9" lengthAdjust="spacingAndGlyphs">10</text>
<text x="321.0" y="419.4" font-size="9.90" text-anchor="end" textLength="11.9" lengthAdjust="spacingAndGlyphs">15</text>
<text x="321.0" y="405.9" font-size="9.90" text-anchor="end" textLength="11.9" lengthAdjust="spacingAndGlyphs">20</text>
<text x="321.0" y="392.4" font-size="9.90" text-anchor="end" textLength="11.9" lengthAdjust="spacingAndGlyphs">25</text>
<text x="321.0" y="378.8" font-size="9.90" text-anchor="end" textLength="11.9" lengthAdjust="spacingAndGlyphs">30</text>
<text x="321.0" y="365.2" font-size="9.90" text-anchor="end" textLength="11.9" lengthAdjust="spacingAndGlyphs">35</text>
<text x="321.0" y="351.7" font-size="9.90" text-anchor="end" textLength="11.9" lengthAdjust="spacingAndGlyphs">40</text>
<text x="321.0" y="338.1" font-size="9.90" text-anchor="end" textLength="11.9" lengthAdjust="spacingAndGlyphs">45</text>
<text x="321.0" y="324.6" font-size="9.90" text-anchor="end" textLength="11.9" lengthAdjust="spacingAndGlyphs">50</text>
<text x="321.0" y="311.0" font-size="9.90" text-anchor="end" textLength="11.9" lengthAdjust="spacingAndGlyphs">55</text>
<text x="321.0" y="297.5" font-size="9.90" text-anchor="end" textLength="11.9" lengthAdjust="spacingAndGlyphs">60</text>
<text x="321.0" y="283.9" font-size="9.90" text-anchor="end" textLength="11.9" lengthAdjust="spacingAndGlyphs">65</text>
<text x="321.0" y="273.0" font-size="9.90" text-anchor="end" textLength="11.9" lengthAdjust="spacingAndGlyphs">70</text>
<text transform="translate(299.8,362.2) rotate(-90)" font-size="9.9" text-anchor="middle" textLength="45" lengthAdjust="spacingAndGlyphs">ZVA(deg)</text>
<path d="M345.5 456.1v-2.2M345.5 266.4v2.2M366.7 456.1v-2.2M366.7 266.4v2.2M387.8 456.1v-2.2M387.8 266.4v2.2M409.0 456.1v-2.2M409.0 266.4v2.2M430.2 456.1v-2.2M430.2 266.4v2.2M451.4 456.1v-2.2M451.4 266.4v2.2M472.5 456.1v-2.2M472.5 266.4v2.2M493.7 456.1v-2.2M493.7 266.4v2.2M328.5 456.1v-1M328.5 266.4v1M332.8 456.1v-1M332.8 266.4v1M337.0 456.1v-1M337.0 266.4v1M341.2 456.1v-1M341.2 266.4v1M349.7 456.1v-1M349.7 266.4v1M353.9 456.1v-1M353.9 266.4v1M358.2 456.1v-1M358.2 266.4v1M362.4 456.1v-1M362.4 266.4v1M370.9 456.1v-1M370.9 266.4v1M375.1 456.1v-1M375.1 266.4v1M379.4 456.1v-1M379.4 266.4v1M383.6 456.1v-1M383.6 266.4v1M392.1 456.1v-1M392.1 266.4v1M396.3 456.1v-1M396.3 266.4v1M400.5 456.1v-1M400.5 266.4v1M404.8 456.1v-1M404.8 266.4v1M413.2 456.1v-1M413.2 266.4v1M417.5 456.1v-1M417.5 266.4v1M421.7 456.1v-1M421.7 266.4v1M426.0 456.1v-1M426.0 266.4v1M434.4 456.1v-1M434.4 266.4v1M438.7 456.1v-1M438.7 266.4v1M442.9 456.1v-1M442.9 266.4v1M447.1 456.1v-1M447.1 266.4v1M455.6 456.1v-1M455.6 266.4v1M459.8 456.1v-1M459.8 266.4v1M464.1 456.1v-1M464.1 266.4v1M468.3 456.1v-1M468.3 266.4v1M476.8 456.1v-1M476.8 266.4v1M481.0 456.1v-1M481.0 266.4v1M485.3 456.1v-1M485.3 266.4v1M489.5 456.1v-1M489.5 266.4v1M498.0 456.1v-1M498.0 266.4v1M502.2 456.1v-1M502.2 266.4v1M506.4 456.1v-1M506.4 266.4v1M510.7 456.1v-1M510.7 266.4v1M324.3 453.4h1.0M514.9 453.4h-1.0M324.3 450.7h1.0M514.9 450.7h-1.0M324.3 448.0h1.0M514.9 448.0h-1.0M324.3 445.3h1.0M514.9 445.3h-1.0M324.3 442.6h2.0M514.9 442.6h-2.0M324.3 439.8h1.0M514.9 439.8h-1.0M324.3 437.1h1.0M514.9 437.1h-1.0M324.3 434.4h1.0M514.9 434.4h-1.0M324.3 431.7h1.0M514.9 431.7h-1.0M324.3 429.0h2.0M514.9 429.0h-2.0M324.3 426.3h1.0M514.9 426.3h-1.0M324.3 423.6h1.0M514.9 423.6h-1.0M324.3 420.9h1.0M514.9 420.9h-1.0M324.3 418.2h1.0M514.9 418.2h-1.0M324.3 415.4h2.0M514.9 415.4h-2.0M324.3 412.7h1.0M514.9 412.7h-1.0M324.3 410.0h1.0M514.9 410.0h-1.0M324.3 407.3h1.0M514.9 407.3h-1.0M324.3 404.6h1.0M514.9 404.6h-1.0M324.3 401.9h2.0M514.9 401.9h-2.0M324.3 399.2h1.0M514.9 399.2h-1.0M324.3 396.5h1.0M514.9 396.5h-1.0M324.3 393.8h1.0M514.9 393.8h-1.0M324.3 391.1h1.0M514.9 391.1h-1.0M324.3 388.4h2.0M514.9 388.4h-2.0M324.3 385.6h1.0M514.9 385.6h-1.0M324.3 382.9h1.0M514.9 382.9h-1.0M324.3 380.2h1.0M514.9 380.2h-1.0M324.3 377.5h1.0M514.9 377.5h-1.0M324.3 374.8h2.0M514.9 374.8h-2.0M324.3 372.1h1.0M514.9 372.1h-1.0M324.3 369.4h1.0M514.9 369.4h-1.0M324.3 366.7h1.0M514.9 366.7h-1.0M324.3 364.0h1.0M514.9 364.0h-1.0M324.3 361.2h2.0M514.9 361.2h-2.0M324.3 358.5h1.0M514.9 358.5h-1.0M324.3 355.8h1.0M514.9 355.8h-1.0M324.3 353.1h1.0M514.9 353.1h-1.0M324.3 350.4h1.0M514.9 350.4h-1.0M324.3 347.7h2.0M514.9 347.7h-2.0M324.3 345.0h1.0M514.9 345.0h-1.0M324.3 342.3h1.0M514.9 342.3h-1.0M324.3 339.6h1.0M514.9 339.6h-1.0M324.3 336.9h1.0M514.9 336.9h-1.0M324.3 334.1h2.0M514.9 334.1h-2.0M324.3 331.4h1.0M514.9 331.4h-1.0M324.3 328.7h1.0M514.9 328.7h-1.0M324.3 326.0h1.0M514.9 326.0h-1.0M324.3 323.3h1.0M514.9 323.3h-1.0M324.3 320.6h2.0M514.9 320.6h-2.0M324.3 317.9h1.0M514.9 317.9h-1.0M324.3 315.2h1.0M514.9 315.2h-1.0M324.3 312.5h1.0M514.9 312.5h-1.0M324.3 309.8h1.0M514.9 309.8h-1.0M324.3 307.0h2.0M514.9 307.0h-2.0M324.3 304.3h1.0M514.9 304.3h-1.0M324.3 301.6h1.0M514.9 301.6h-1.0M324.3 298.9h1.0M514.9 298.9h-1.0M324.3 296.2h1.0M514.9 296.2h-1.0M324.3 293.5h2.0M514.9 293.5h-2.0M324.3 290.8h1.0M514.9 290.8h-1.0M324.3 288.1h1.0M514.9 288.1h-1.0M324.3 285.4h1.0M514.9 285.4h-1.0M324.3 282.7h1.0M514.9 282.7h-1.0M324.3 279.9h2.0M514.9 279.9h-2.0M324.3 277.2h1.0M514.9 277.2h-1.0M324.3 274.5h1.0M514.9 274.5h-1.0M324.3 271.8h1.0M514.9 271.8h-1.0M324.3 269.1h1.0M514.9 269.1h-1.0" stroke="#2a2800" stroke-opacity="0.42" stroke-width="0.8" fill="none"/>
<g filter="url(#soft)">
<rect x="519.6" y="442.55" width="7.2" height="13.85" fill="#00007f"/>
<rect x="519.6" y="429.00" width="7.2" height="13.85" fill="#0000c8"/>
<rect x="519.6" y="415.45" width="7.2" height="13.85" fill="#0010ff"/>
<rect x="519.6" y="401.90" width="7.2" height="13.85" fill="#0058ff"/>
<rect x="519.6" y="388.35" width="7.2" height="13.85" fill="#0cacff"/>
<rect x="519.6" y="374.80" width="7.2" height="13.85" fill="#00f4ff"/>
<rect x="519.6" y="361.25" width="7.2" height="13.85" fill="#28ffb4"/>
<rect x="519.6" y="347.70" width="7.2" height="13.85" fill="#6cf850"/>
<rect x="519.6" y="334.15" width="7.2" height="13.85" fill="#c4fb20"/>
<rect x="519.6" y="320.60" width="7.2" height="13.85" fill="#ffe600"/>
<rect x="519.6" y="307.05" width="7.2" height="13.85" fill="#ffa800"/>
<rect x="519.6" y="293.50" width="7.2" height="13.85" fill="#ff5a00"/>
<rect x="519.6" y="279.95" width="7.2" height="13.85" fill="#ff0000"/>
<rect x="519.6" y="266.40" width="7.2" height="13.85" fill="#960000"/>
</g>
<text x="528.9" y="457.7" font-size="8.10" text-anchor="start" textLength="16.2" lengthAdjust="spacingAndGlyphs">0.00</text>
<text x="528.9" y="446.6" font-size="8.10" text-anchor="start" textLength="16.2" lengthAdjust="spacingAndGlyphs">0.25</text>
<text x="528.9" y="433.0" font-size="8.10" text-anchor="start" textLength="16.2" lengthAdjust="spacingAndGlyphs">0.50</text>
<text x="528.9" y="419.5" font-size="8.10" text-anchor="start" textLength="16.2" lengthAdjust="spacingAndGlyphs">0.75</text>
<text x="528.9" y="405.9" font-size="8.10" text-anchor="start" textLength="16.2" lengthAdjust="spacingAndGlyphs">1.00</text>
<text x="528.9" y="392.4" font-size="8.10" text-anchor="start" textLength="16.2" lengthAdjust="spacingAndGlyphs">1.25</text>
<text x="528.9" y="378.8" font-size="8.10" text-anchor="start" textLength="16.2" lengthAdjust="spacingAndGlyphs">1.50</text>
<text x="528.9" y="365.2" font-size="8.10" text-anchor="start" textLength="16.2" lengthAdjust="spacingAndGlyphs">1.75</text>
<text x="528.9" y="351.7" font-size="8.10" text-anchor="start" textLength="16.2" lengthAdjust="spacingAndGlyphs">2.00</text>
<text x="528.9" y="338.1" font-size="8.10" text-anchor="start" textLength="16.2" lengthAdjust="spacingAndGlyphs">2.25</text>
<text x="528.9" y="324.6" font-size="8.10" text-anchor="start" textLength="16.2" lengthAdjust="spacingAndGlyphs">2.50</text>
<text x="528.9" y="311.0" font-size="8.10" text-anchor="start" textLength="16.2" lengthAdjust="spacingAndGlyphs">2.75</text>
<text x="528.9" y="297.5" font-size="8.10" text-anchor="start" textLength="16.2" lengthAdjust="spacingAndGlyphs">3.00</text>
<text x="528.9" y="283.9" font-size="8.10" text-anchor="start" textLength="16.2" lengthAdjust="spacingAndGlyphs">3.25</text>
<text x="528.9" y="272.4" font-size="8.10" text-anchor="start" textLength="16.2" lengthAdjust="spacingAndGlyphs">3.50</text>
</svg>
</body></html>
